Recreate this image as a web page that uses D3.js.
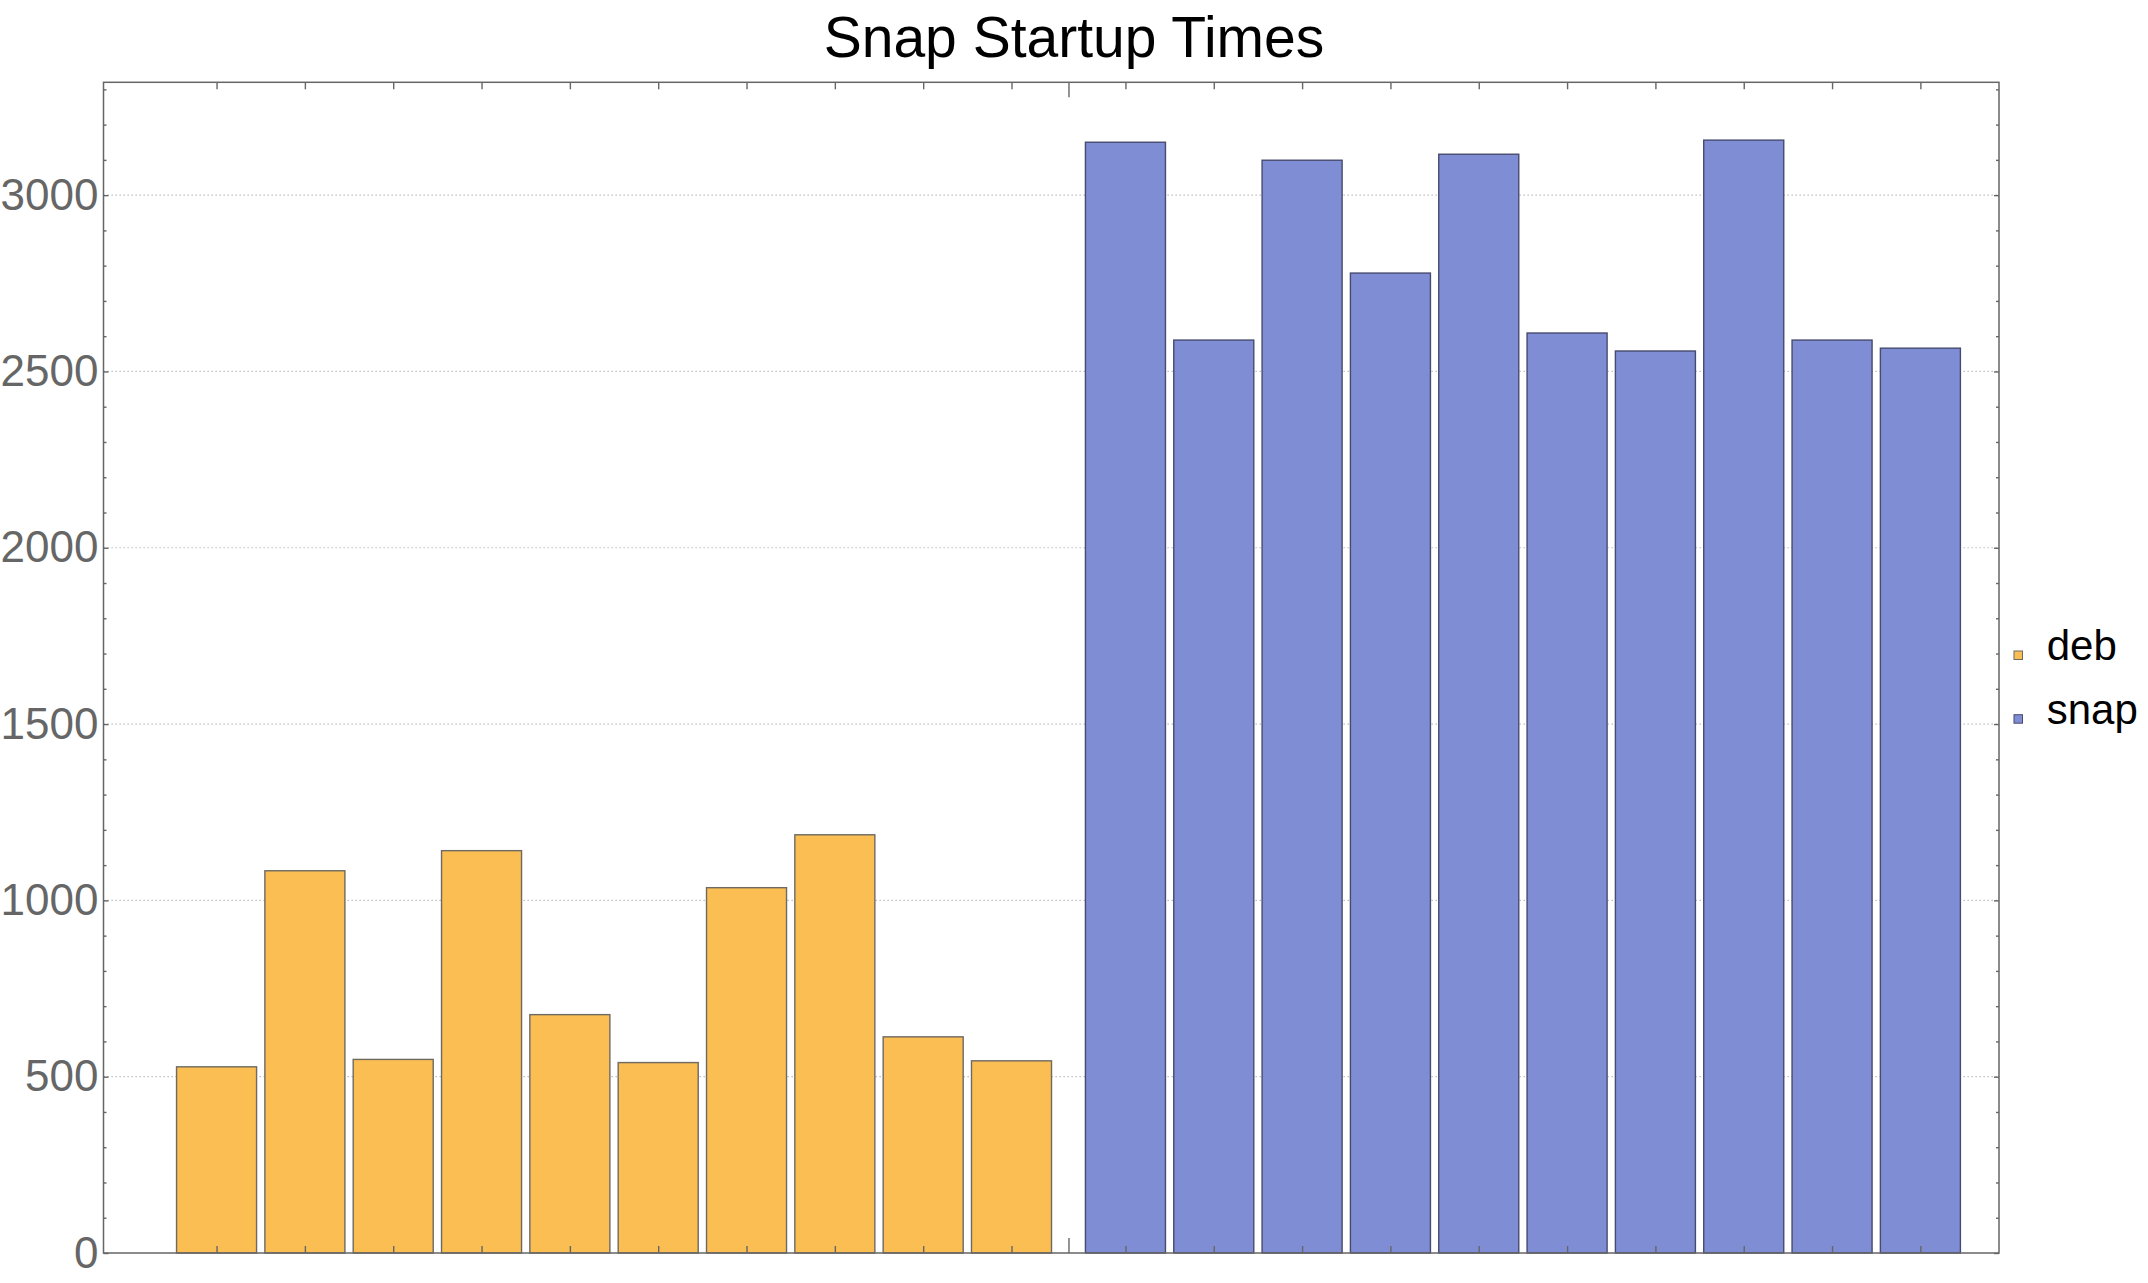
<!DOCTYPE html>
<html><head><meta charset="utf-8">
<script src="https://cdn.jsdelivr.net/npm/d3@7"></script>
<style>body{margin:0;background:#fff} svg{display:block}</style>
</head><body>
<script>
// ---- data ----
const runs = [1,2,3,4,5,6,7,8,9,10];
const seriesNames = ["deb","snap"];
const debTimes  = [528,1084,549,1141,676,540,1036,1186,613,545];
const snapTimes = [3150,2589,3099,2779,3116,2609,2558,3156,2589,2566];
const yTickValues = [0,500,1000,1500,2000,2500,3000];
const seriesColors = ["#FABE52","#7F8DD4"];
const seriesStrokes = ["#6e6a62","#474b6e"];
const titleText = "Snap Startup Times";

// ---- layout ----
const W = 2148, H = 1283;
const L = 103.5, R = 1999, T = 82.3, B = 1253;
const groupStep = runs.length + 0.29;   // in bar-pitch units
const barW = 0.906;
const font = "'Liberation Sans', Arial, sans-serif";

const svg = d3.select("body").append("svg").attr("width", W).attr("height", H);

const x = d3.scaleLinear().domain([-1.28, 20.18]).range([L, R]);
const y = d3.scaleLinear().domain([0, 3320]).range([B, T]);

const series = [debTimes, snapTimes];
const barData = [];
series.forEach((vals, g) => vals.forEach((v, i) => barData.push({g, i, v, pos: g * groupStep + i})));
const centers = barData.map(d => d.pos);
const divider = (runs.length - 1 + groupStep) / 2;

// gridlines
svg.append("g").selectAll("line").data(yTickValues.filter(v => v > 0)).join("line")
  .attr("x1", L).attr("x2", R).attr("y1", d => y(d)).attr("y2", d => y(d))
  .attr("stroke", "#b4b4b4").attr("stroke-width", 1.2).attr("stroke-dasharray", "1.3,2.7");

// bars
svg.append("g").selectAll("rect").data(barData).join("rect")
  .attr("x", d => x(d.pos - barW / 2))
  .attr("width", d => x(d.pos + barW / 2) - x(d.pos - barW / 2))
  .attr("y", d => y(d.v))
  .attr("height", d => y(0) - y(d.v))
  .attr("fill", d => seriesColors[d.g])
  .attr("stroke", d => seriesStrokes[d.g])
  .attr("stroke-width", 1.4);

const axisColor = "#666666";
function styleAxis(g) {
  g.select(".domain").remove();
  g.selectAll(".tick line").attr("stroke", axisColor).attr("stroke-width", 1.4);
  g.selectAll(".tick text").attr("fill", axisColor).attr("font-family", font).attr("font-size", 44);
}
const minorVals = d3.range(0, 3321, 100).filter(v => v % 500 !== 0);

// left axis
svg.append("g").attr("transform", `translate(${L},0)`)
  .call(d3.axisLeft(y).tickValues(yTickValues).tickSize(-5).tickPadding(5).tickFormat(d3.format("d")))
  .call(styleAxis);
svg.append("g").attr("transform", `translate(${L},0)`)
  .call(d3.axisLeft(y).tickValues(minorVals).tickSize(-3).tickFormat(""))
  .call(styleAxis);
// right axis
svg.append("g").attr("transform", `translate(${R},0)`)
  .call(d3.axisRight(y).tickValues(yTickValues).tickSize(-5).tickFormat(""))
  .call(styleAxis);
svg.append("g").attr("transform", `translate(${R},0)`)
  .call(d3.axisRight(y).tickValues(minorVals).tickSize(-3).tickFormat(""))
  .call(styleAxis);
// bottom / top axes
svg.append("g").attr("transform", `translate(0,${B})`)
  .call(d3.axisBottom(x).tickValues(centers).tickSize(-7).tickFormat(""))
  .call(styleAxis);
svg.append("g").attr("transform", `translate(0,${B})`)
  .call(d3.axisBottom(x).tickValues([divider]).tickSize(-15).tickFormat(""))
  .call(styleAxis);
svg.append("g").attr("transform", `translate(0,${T})`)
  .call(d3.axisTop(x).tickValues(centers).tickSize(-7).tickFormat(""))
  .call(styleAxis);
svg.append("g").attr("transform", `translate(0,${T})`)
  .call(d3.axisTop(x).tickValues([divider]).tickSize(-15).tickFormat(""))
  .call(styleAxis);

// frame
svg.append("rect").attr("x", L).attr("y", T).attr("width", R - L).attr("height", B - T)
  .attr("fill", "none").attr("stroke", axisColor).attr("stroke-width", 1.5);

// title
svg.append("text").attr("x", 1074).attr("y", 57).attr("text-anchor", "middle")
  .attr("font-family", font).attr("font-size", 57).attr("fill", "#000").text(titleText);

// legend
const lg = svg.append("g").selectAll("g").data(seriesNames).join("g")
  .attr("transform", (d, i) => `translate(2014,${651 + i * 63.7})`);
lg.append("rect").attr("width", 8.5).attr("height", 8.5)
  .attr("fill", (d, i) => seriesColors[i]).attr("stroke", (d, i) => seriesStrokes[i]).attr("stroke-width", 1);
lg.append("text").attr("x", 32.7).attr("y", 9).attr("font-family", font).attr("font-size", 42)
  .attr("fill", "#000").text(d => d);
</script>
</body></html>
